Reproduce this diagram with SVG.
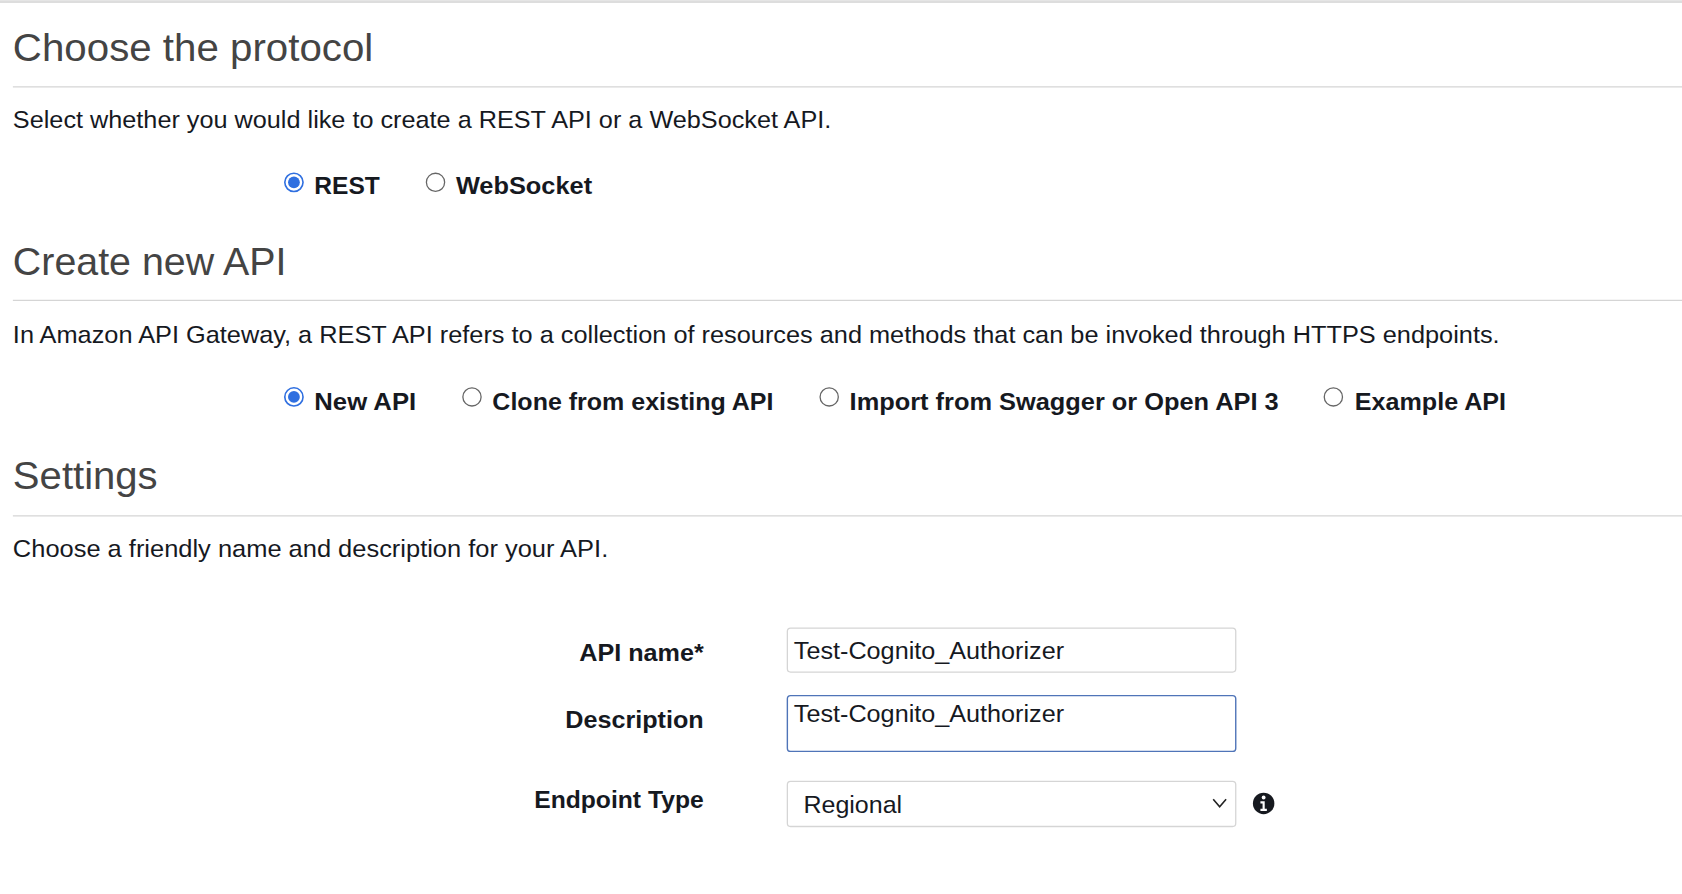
<svg xmlns="http://www.w3.org/2000/svg" width="1682" height="894" viewBox="0 0 1682 894">
<style>
text{font-family:"Liberation Sans",Arial,sans-serif}
.h{font-size:37px;fill:#444}
.p{font-size:22px;fill:#16191f}
.b{font-size:22.5px;font-weight:bold;fill:#16191f}
.l{font-size:22.5px;font-weight:bold;fill:#16191f;text-anchor:end}
.hr{stroke:#d5d5d5;stroke-width:1.2}
.ro{fill:#fff;stroke:#666;stroke-width:1.2}
.box{fill:#fff;stroke:#d5d5d5;stroke-width:1.2}
</style>
<rect width="1682" height="894" fill="#fff"/>
<g transform="scale(1.0727)">
<line x1="0" y1="1.5" x2="1568" y2="1.5" stroke="#ddd" stroke-width="2.5"/>
<g id="protocol">
<text class="h" x="12" y="57" textLength="336" lengthAdjust="spacingAndGlyphs">Choose the protocol</text>
<line class="hr" x1="12" y1="81" x2="1568" y2="81"/>
<text class="p" x="12" y="119" textLength="763" lengthAdjust="spacingAndGlyphs">Select whether you would like to create a REST API or a WebSocket API.</text>
<circle cx="274" cy="170" r="8.5" fill="#fff" stroke="#2f6fe0" stroke-width="1.5"/><circle cx="274" cy="170" r="5.5" fill="#2f6fe0"/>
<text class="b" x="293" y="181" textLength="61" lengthAdjust="spacingAndGlyphs">REST</text>
<circle class="ro" cx="406" cy="170" r="8.5"/>
<text class="b" x="425" y="181" textLength="127" lengthAdjust="spacingAndGlyphs">WebSocket</text>
</g>
<g id="newapi">
<text class="h" x="12" y="256" textLength="255" lengthAdjust="spacingAndGlyphs">Create new API</text>
<line class="hr" x1="12" y1="280" x2="1568" y2="280"/>
<text class="p" x="12" y="320" textLength="1386" lengthAdjust="spacingAndGlyphs">In Amazon API Gateway, a REST API refers to a collection of resources and methods that can be invoked through HTTPS endpoints.</text>
<circle cx="274" cy="370" r="8.5" fill="#fff" stroke="#2f6fe0" stroke-width="1.5"/><circle cx="274" cy="370" r="5.5" fill="#2f6fe0"/>
<text class="b" x="293" y="382" textLength="95" lengthAdjust="spacingAndGlyphs">New API</text>
<circle class="ro" cx="440" cy="370" r="8.5"/>
<text class="b" x="459" y="382" textLength="262" lengthAdjust="spacingAndGlyphs">Clone from existing API</text>
<circle class="ro" cx="773" cy="370" r="8.5"/>
<text class="b" x="792" y="382" textLength="400" lengthAdjust="spacingAndGlyphs">Import from Swagger or Open API 3</text>
<circle class="ro" cx="1243" cy="370" r="8.5"/>
<text class="b" x="1263" y="382" textLength="141" lengthAdjust="spacingAndGlyphs">Example API</text>
</g>
<g id="settings">
<text class="h" x="12" y="456" textLength="135" lengthAdjust="spacingAndGlyphs">Settings</text>
<line class="hr" x1="12" y1="481" x2="1568" y2="481"/>
<text class="p" x="12" y="519" textLength="555" lengthAdjust="spacingAndGlyphs">Choose a friendly name and description for your API.</text>
<text class="l" x="656" y="616" textLength="116" lengthAdjust="spacingAndGlyphs">API name*</text>
<rect class="box" x="734" y="585.5" width="418" height="41" rx="3"/>
<text class="p" x="740" y="614" textLength="252" lengthAdjust="spacingAndGlyphs">Test-Cognito_Authorizer</text>
<text class="l" x="656" y="679" textLength="129" lengthAdjust="spacingAndGlyphs">Description</text>
<rect x="734" y="648.5" width="418" height="52" rx="3" fill="#fff" stroke="#4f74b8" stroke-width="1.3"/>
<text class="p" x="740" y="673" textLength="252" lengthAdjust="spacingAndGlyphs">Test-Cognito_Authorizer</text>
<text class="l" x="656" y="753" textLength="158" lengthAdjust="spacingAndGlyphs">Endpoint Type</text>
<rect class="box" x="734" y="728.5" width="418" height="42" rx="3"/>
<text class="p" x="749" y="758" textLength="92" lengthAdjust="spacingAndGlyphs">Regional</text>
<path d="M1131 745 L1137 752 L1143 745" fill="none" stroke="#222" stroke-width="1.5"/>
<circle cx="1178" cy="749" r="10" fill="#16191f"/>
<circle cx="1178" cy="743.5" r="1.8" fill="#fff"/>
<path d="M1175 747 h4 v7 h2 v2 h-6 v-2 h2 v-5 h-2z" fill="#fff"/>
</g>
</g>
</svg>
